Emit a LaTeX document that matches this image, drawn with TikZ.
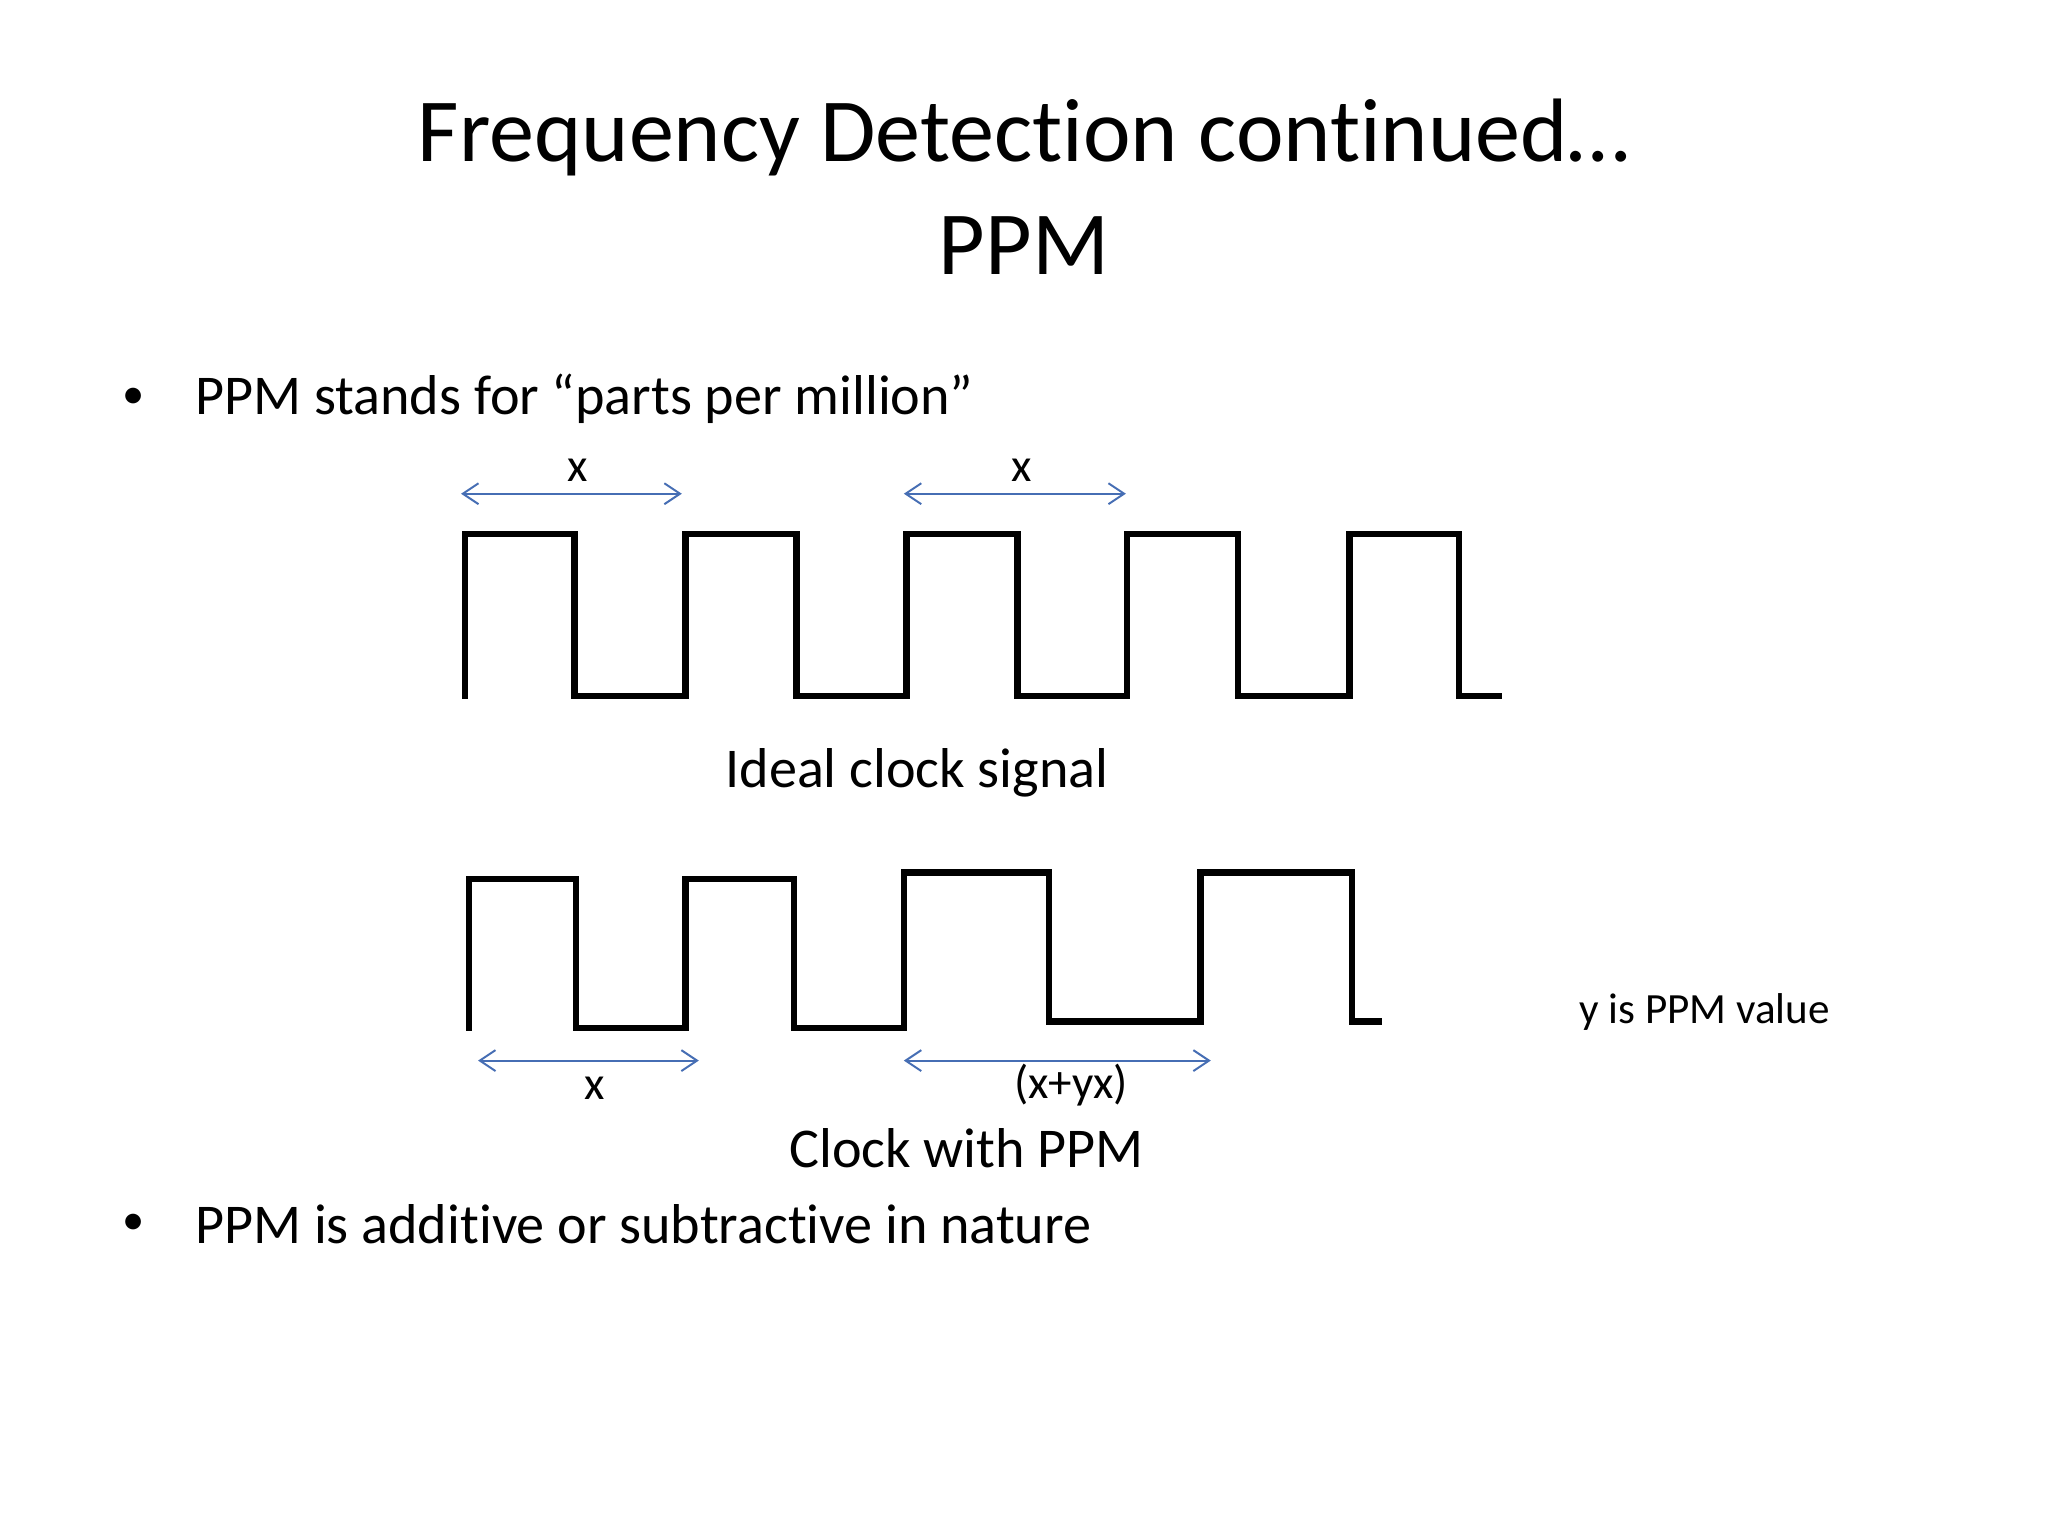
\documentclass[tikz,border=0pt]{standalone}
\usepackage{fontspec}
\setmainfont[Ligatures=NoCommon]{Carlito}
\usetikzlibrary{arrows.meta}
\definecolor{arrblue}{RGB}{70,110,180}
\tikzset{sig/.style={line width=5pt,line join=miter},
 dim/.style={arrblue,line width=1.5pt,{Straight Barb[length=12pt,width=16pt]}-{Straight Barb[length=12pt,width=16pt]}},
 lbl/.style={font=\fontsize{36}{42}\selectfont},
 body/.style={font=\fontsize{43}{50}\selectfont}}
\begin{document}
\begin{tikzpicture}[x=1pt,y=-1pt]
\useasboundingbox[fill=white] (0,0) rectangle (1568,1176);
\node (t1) at (784,105) {\fontsize{69}{76}\selectfont Frequency Detection continued…};
\node (t2) at (784,188) {\fontsize{69}{76}\selectfont PPM};
\node[body] (b1) at (102,305) {\fontsize{34}{40}\selectfont •};
\node[body,anchor=west] (l1) at (146,305) {PPM stands for “parts per million”};
\node[body] (b2) at (102,937) {\fontsize{34}{40}\selectfont •};
\node[body,anchor=west] (l2) at (146,937) {PPM is additive or subtractive in nature};
% top arrows
\coordinate (a1) at (353,378); \coordinate (a2) at (522,378);
\coordinate (a3) at (692,378); \coordinate (a4) at (862,378);
\draw[dim] (a1) -- (a2); \draw[dim] (a3) -- (a4);
\node[lbl] (x1) at (442,360) {x};
\node[lbl] (x2) at (782,360) {x};
% ideal signal
\draw[sig] (356,535) -- (356,409) -- (440,409) -- (440,533) -- (525,533) -- (525,409) -- (610,409) -- (610,533) -- (694,533) -- (694,409) -- (779,409) -- (779,533) -- (863,533) -- (863,409) -- (948,409) -- (948,533) -- (1033,533) -- (1033,409) -- (1117,409) -- (1117,533) -- (1150,533);
\node[body] (s1) at (702,592) {Ideal clock signal};
% ppm signal
\draw[sig] (359,789) -- (359,673) -- (441,673) -- (441,787) -- (525,787) -- (525,673) -- (608,673) -- (608,787) -- (692,787) -- (692,668) -- (803,668) -- (803,782) -- (919,782) -- (919,668) -- (1035,668) -- (1035,782) -- (1058,782);
\coordinate (c1) at (366,812); \coordinate (c2) at (535,812);
\coordinate (c3) at (692,812); \coordinate (c4) at (927,812);
\draw[dim] (c1) -- (c2); \draw[dim] (c3) -- (c4);
\node[lbl] (x3) at (455,833) {x};
\node[lbl] (x4) at (820,831) {(x+yx)};
\node[body] (s2) at (740,879) {Clock with PPM};
\node[font=\fontsize{33}{38}\selectfont] (yv) at (1305,775) {y is PPM value};
\end{tikzpicture}
\end{document}
